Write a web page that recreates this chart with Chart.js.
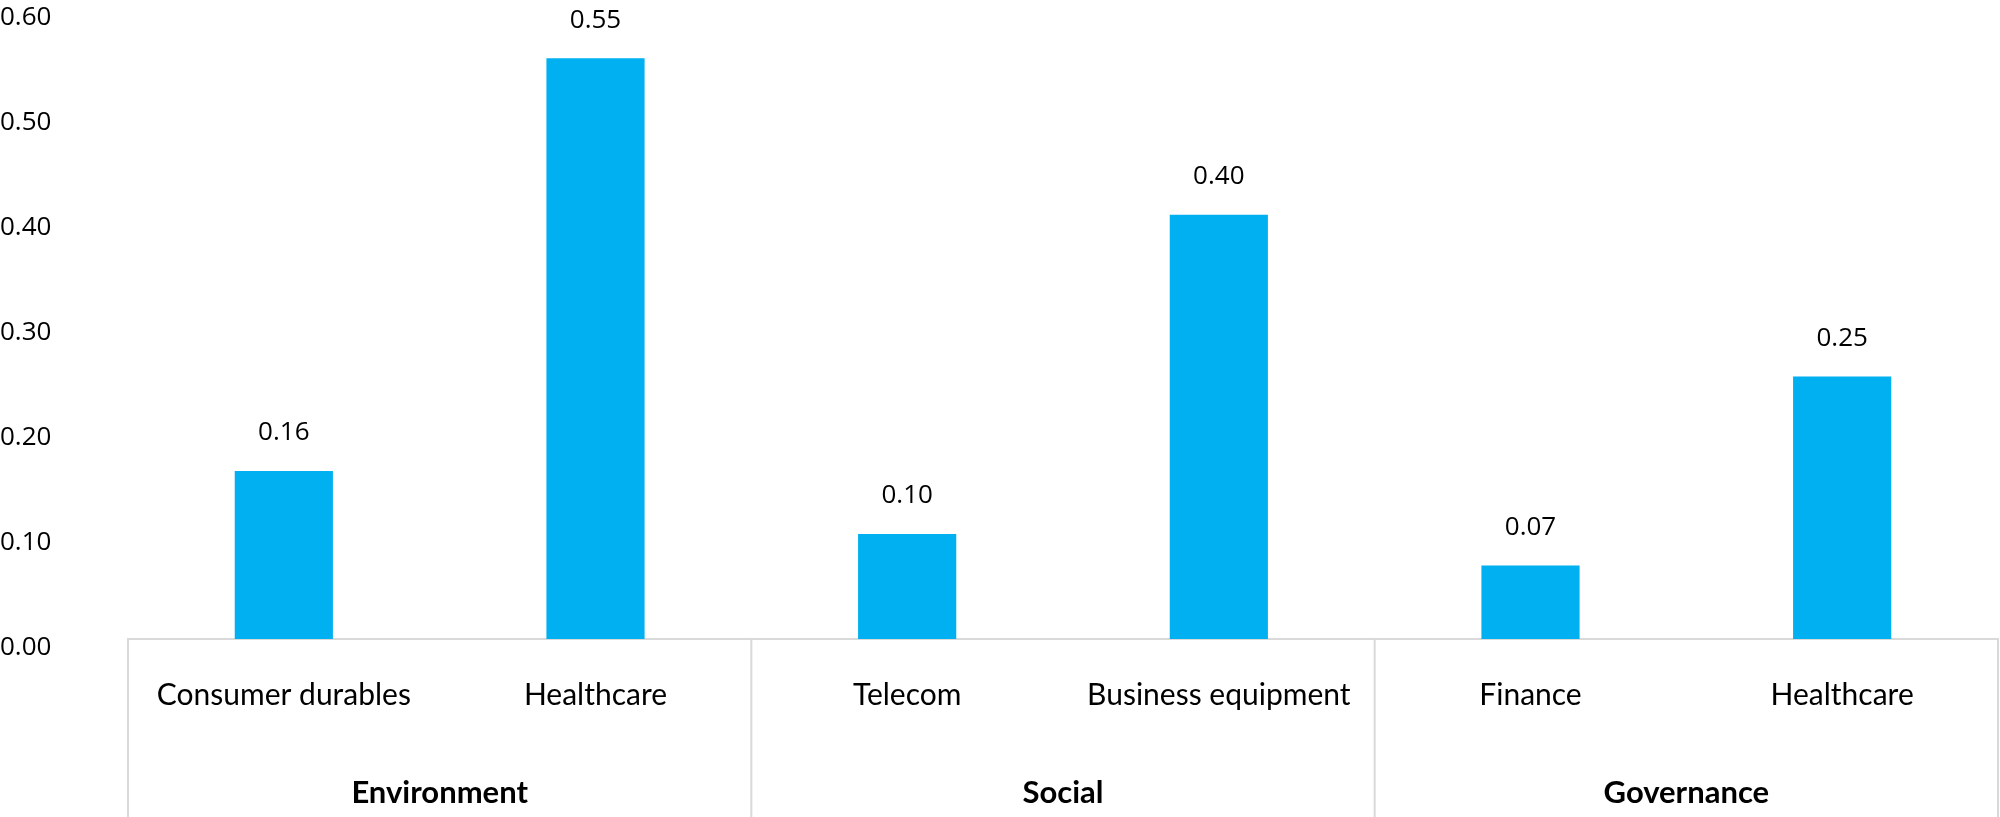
<!DOCTYPE html>
<html>
<head>
<meta charset="utf-8">
<script src="https://cdn.jsdelivr.net/npm/chart.js@4.4.1/dist/chart.umd.min.js"></script>
<style>
    html, body { margin: 0; padding: 0; background: #fff; }
    #wrap { width: 2000px; height: 817px; position: relative; }
</style>
</head>
<body>
<div id="wrap"><canvas id="esgChart"></canvas></div>
<script>
// categories, grouped by pillar
var categories = ['Consumer durables', 'Healthcare', 'Telecom', 'Business equipment', 'Finance', 'Healthcare'];
var groups = ['Environment', 'Social', 'Governance'];
var groupSize = [2, 2, 2];
var values = [0.16, 0.553, 0.10, 0.404, 0.07, 0.25];
var yTicks = [0.00, 0.10, 0.20, 0.30, 0.40, 0.50, 0.60];

var lineColor = '#d9d9d9';
var numFont = 'Open Sans';

// value labels above each bar
var barLabels = {
    id: 'barLabels',
    afterDatasetsDraw: function (chart) {
        var ctx = chart.ctx;
        var meta = chart.getDatasetMeta(0);
        ctx.save();
        ctx.fillStyle = '#000';
        ctx.font = '26px "' + numFont + '"';
        ctx.textAlign = 'center';
        ctx.textBaseline = 'middle';
        meta.data.forEach(function (bar, i) {
            ctx.fillText(values[i].toFixed(2), bar.x, bar.y - 38);
        });
        ctx.restore();
    }
};

// group separators and group names under the category labels
var groupAxis = {
    id: 'groupAxis',
    afterDraw: function (chart) {
        var ctx = chart.ctx;
        var x = chart.scales.x;
        var bottom = chart.height;
        var top = x.top;
        var half = (x.getPixelForValue(1) - x.getPixelForValue(0)) / 2;
        ctx.save();
        ctx.strokeStyle = lineColor;
        ctx.lineWidth = 2;
        var start = 0;
        for (var g = 0; g < groups.length; g++) {
            var end = start + groupSize[g] - 1;
            var left = x.getPixelForValue(start) - half;
            var right = x.getPixelForValue(end) + half;
            ctx.beginPath();
            ctx.moveTo(left, top);
            ctx.lineTo(left, bottom);
            ctx.stroke();
            if (g == groups.length - 1) {
                ctx.beginPath();
                ctx.moveTo(right, top);
                ctx.lineTo(right, bottom);
                ctx.stroke();
            }
            ctx.fillStyle = '#000';
            ctx.font = 'bold 31px Lato';
            ctx.textAlign = 'center';
            ctx.textBaseline = 'middle';
            ctx.fillText(groups[g], (left + right) / 2, 793);
            start = end + 1;
        }
        ctx.restore();
    }
};

var ctx = document.getElementById('esgChart');
var esgChart = new Chart(ctx, {
    type: 'bar',
    data: {
        labels: categories,
        datasets: [{
            data: values,
            backgroundColor: '#00b0f0',
            borderWidth: 0,
            barPercentage: 0.315,
            categoryPercentage: 1
        }]
    },
    options: {
        responsive: true,
        maintainAspectRatio: false,
        animation: false,
        layout: { padding: { top: 9, right: 2, left: 0, bottom: 0 } },
        plugins: {
            legend: { display: false },
            tooltip: { enabled: false }
        },
        scales: {
            x: {
                grid: { display: false, drawTicks: false },
                border: { display: true, color: lineColor, width: 2 },
                ticks: {
                    color: '#000',
                    font: { family: 'Lato', size: 30 },
                    padding: 38,
                    maxRotation: 0,
                    autoSkip: false
                },
                afterFit: function (scale) { scale.height = 178; }
            },
            y: {
                min: 0,
                max: 0.6,
                grid: { display: false, drawTicks: false },
                border: { display: false },
                afterBuildTicks: function (scale) {
                    scale.ticks = yTicks.map(function (v) { return { value: v }; });
                },
                ticks: {
                    color: '#000',
                    font: { family: numFont, size: 26, lineHeight: 0.6 },
                    crossAlign: 'far',
                    labelOffset: 9,
                    padding: 0,
                    callback: function (v) { return Number(v).toFixed(2); }
                },
                afterFit: function (scale) { scale.width = 128; }
            }
        }
    },
    plugins: [barLabels, groupAxis]
});
</script>
</body>
</html>
